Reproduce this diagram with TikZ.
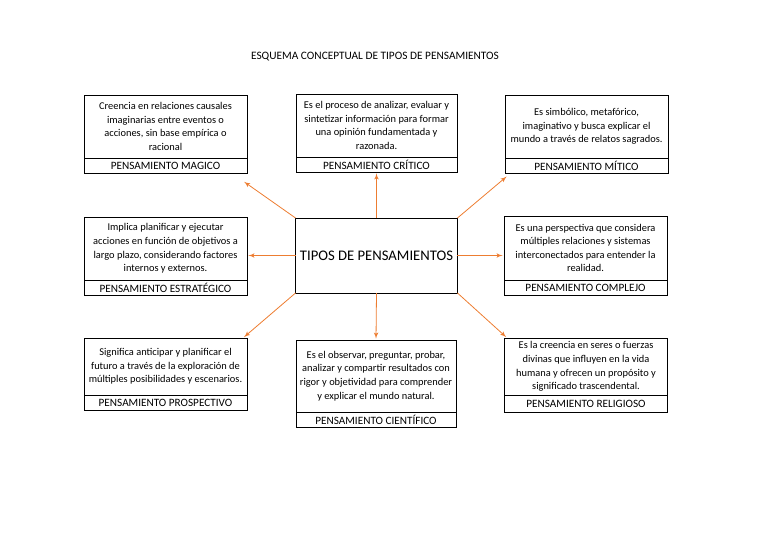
\documentclass[tikz,border=0pt]{standalone}
\usepackage{fontspec}
\setmainfont{Carlito}
\usetikzlibrary{arrows}
\usetikzlibrary{positioning}
\definecolor{naranja}{HTML}{ED7D31}

\begin{document}
\begin{tikzpicture}[x=0.75pt,y=-0.75pt]
  \tikzset{desc/.style = {draw, line width=0.75pt, align=center, inner sep=1pt,
      outer sep=0pt, minimum width=122.25pt, font=\fontsize{7.8}{10.2}\selectfont}}
  \tikzset{rotulo/.style = {draw, line width=0.75pt, inner sep=0pt, outer sep=0pt,
      minimum width=122.25pt, minimum height=11.25pt, font=\fontsize{8.4}{9}\selectfont}}
  \tikzset{flecha/.style = {draw=naranja, ->, > = latex', line width=0.6pt, shorten >=1pt}}

  \useasboundingbox (0,0) rectangle (768,543);

  \node[font=\fontsize{8.5}{9}\selectfont] (titulo) at (375,57)
  {ESQUEMA CONCEPTUAL DE TIPOS DE PENSAMIENTOS};

  %%%%%%%%%%%% fila de arriba

  \node[desc, minimum height=47.25pt] (magico) at (165.5,126.5)
  {Creencia en relaciones causales\\ imaginarias entre eventos o\\
    acciones, sin base empírica o\\ racional};
  \node[rotulo, below=0pt of magico] (lmagico) {PENSAMIENTO MAGICO};

  \node[desc, minimum height=47.25pt, minimum width=120.75pt] (critico) at (376.5,125.5)
  {Es el proceso de analizar, evaluar y\\ sintetizar información para formar\\
    una opinión fundamentada y\\ razonada.};
  \node[rotulo, minimum width=120.75pt, below=0pt of critico] (lcritico)
  {PENSAMIENTO CRÍTICO};

  \node[desc, minimum height=47.25pt] (mitico) at (586.5,126.5)
  {Es simbólico, metafórico,\\ imaginativo y busca explicar el\\
    mundo a través de relatos sagrados.};
  \node[rotulo, below=0pt of mitico] (lmitico) {PENSAMIENTO MÍTICO};

  %%%%%%%%%%%% fila del medio

  \node[desc, minimum height=47.25pt] (estrategico) at (165.5,248.5)
  {Implica planificar y ejecutar\\ acciones en función de objetivos a\\
    largo plazo, considerando factores\\ internos y externos.};
  \node[rotulo, below=0pt of estrategico] (lestrategico) {PENSAMIENTO ESTRATÉGICO};

  \node[draw, line width=0.75pt, outer sep=0pt, minimum width=119.25pt,
  minimum height=56.25pt, font=\fontsize{11}{12}\selectfont] (central) at (376.5,255.5)
  {TIPOS DE PENSAMIENTOS};

  \node[desc, minimum height=48pt] (complejo) at (585.5,248)
  {Es una perspectiva que considera\\ múltiples relaciones y sistemas\\
    interconectados para entender la\\ realidad.};
  \node[rotulo, below=0pt of complejo] (lcomplejo) {PENSAMIENTO COMPLEJO};

  %%%%%%%%%%%% fila de abajo

  \node[desc, minimum height=42.75pt] (prospectivo) at (165.5,366.5)
  {Significa anticipar y planificar el\\ futuro a través de la exploración de\\
    múltiples posibilidades y escenarios.};
  \node[rotulo, below=0pt of prospectivo] (lprospectivo) {PENSAMIENTO PROSPECTIVO};

  \node[desc, minimum height=54pt, minimum width=120pt] (cientifico) at (376,376)
  {Es el observar, preguntar, probar,\\ analizar y compartir resultados con\\
    rigor y objetividad para comprender\\ y explicar el mundo natural.};
  \node[rotulo, minimum width=120pt, below=0pt of cientifico] (lcientifico)
  {PENSAMIENTO CIENTÍFICO};

  \node[desc, minimum height=42.75pt] (religioso) at (586,366.5)
  {Es la creencia en seres o fuerzas\\ divinas que influyen en la vida\\
    humana y ofrecen un propósito y\\ significado trascendental.};
  \node[rotulo, minimum height=12.75pt, below=0pt of religioso] (lreligioso)
  {PENSAMIENTO RELIGIOSO};

  %%%%%%%%%%%% flechas

  \path[flecha] (central.north) -- (lcritico.south);
  \path[flecha] (central.north west) -- ([xshift=-3pt,yshift=-6pt]lmagico.south east);
  \path[flecha] (central.north east) -- ([xshift=2pt,yshift=-2pt]lmitico.south west);
  \path[flecha] (central.west) -- (estrategico.east |- central.west);
  \path[flecha] (central.east) -- (complejo.west |- central.east);
  \path[flecha] (central.south west) -- ([xshift=-3pt]prospectivo.north east);
  \path[flecha] (central.south) -- (cientifico.north);
  \path[flecha] (central.south east) -- ([xshift=2pt]religioso.north west);

\end{tikzpicture}
\end{document}
